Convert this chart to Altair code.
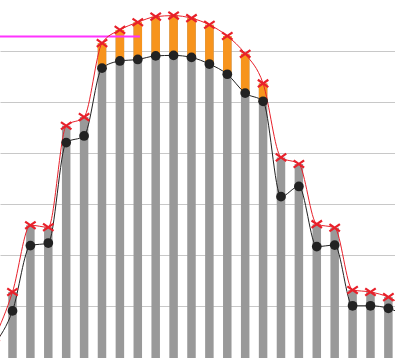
import altair as alt
import pandas as pd

# category index (-1 and 22 lie just outside the visible window)
idx = list(range(-1, 23))
upper = [0.38, 1.28, 2.59, 2.55, 4.54, 4.71, 6.16, 6.42, 6.57, 6.68, 6.70, 6.65,
         6.52, 6.30, 5.95, 5.37, 3.92, 3.79, 2.61, 2.54, 1.32, 1.28, 1.18, 0.97]
lower = [0.26, 0.91, 2.19, 2.24, 4.21, 4.34, 5.67, 5.81, 5.84, 5.91, 5.92, 5.88,
         5.75, 5.55, 5.18, 5.02, 3.15, 3.35, 2.17, 2.20, 1.01, 1.01, 0.96, 0.81]
highlight_from, highlight_to = 5, 14
ref_level = 6.29
ref_start, ref_end = -2, 7.12
grid_values = [1, 2, 3, 4, 5, 6]

df = pd.DataFrame({"i": idx, "upper": upper, "lower": lower})
df["base"] = -1.0
df["hl"] = [(highlight_from <= k <= highlight_to) for k in idx]
ref = pd.DataFrame({"x": [ref_start], "x2": [ref_end], "y": [ref_level]})

xs = alt.Scale(domain=[-0.698, 21.37], nice=False, zero=False, padding=0)
ys = alt.Scale(domain=[-0.014, 7.006], nice=False, zero=False, padding=0)

base = alt.Chart(df)

bars = base.mark_bar(size=8.5, color="#999999", clip=True).encode(
    x=alt.X("i:Q", scale=xs, axis=None),
    y=alt.Y("base:Q", scale=ys,
            axis=alt.Axis(values=grid_values, grid=True, labels=False, ticks=False,
                          domain=False, title=None, gridColor="#c8c8c8", gridWidth=1)),
    y2="upper:Q",
)

orange = base.transform_filter("datum.hl").mark_bar(size=8.5, color="#f7941d", clip=True).encode(
    x=alt.X("i:Q", scale=xs),
    y=alt.Y("lower:Q", scale=ys),
    y2="upper:Q",
)

red_line = base.mark_line(color="#e8202a", strokeWidth=1, interpolate="monotone", clip=True).encode(
    x=alt.X("i:Q", scale=xs), y=alt.Y("upper:Q", scale=ys))
black_line = base.mark_line(color="#222222", strokeWidth=1, interpolate="monotone", clip=True).encode(
    x=alt.X("i:Q", scale=xs), y=alt.Y("lower:Q", scale=ys))

dots = base.mark_circle(color="#222222", size=95, opacity=1, clip=True).encode(
    x=alt.X("i:Q", scale=xs), y=alt.Y("lower:Q", scale=ys))

crosses = base.mark_point(shape="M-1,-0.7L1,0.7M-1,0.7L1,-0.7", filled=False, color="#e8202a",
                          strokeWidth=2.2, size=110, opacity=1, clip=True).encode(
    x=alt.X("i:Q", scale=xs), y=alt.Y("upper:Q", scale=ys))

refline = alt.Chart(ref).mark_rule(color="#ff33ff", strokeWidth=2, clip=True).encode(
    x=alt.X("x:Q", scale=xs), x2="x2:Q", y=alt.Y("y:Q", scale=ys))

chart = alt.layer(bars, orange, refline, black_line, red_line, dots, crosses).properties(
    width=395, height=358, autosize=alt.AutoSizeParams(type="none"), padding=0
).configure_view(stroke=None)

chart.save("out.html", embed_options={"renderer": "svg", "actions": False})
